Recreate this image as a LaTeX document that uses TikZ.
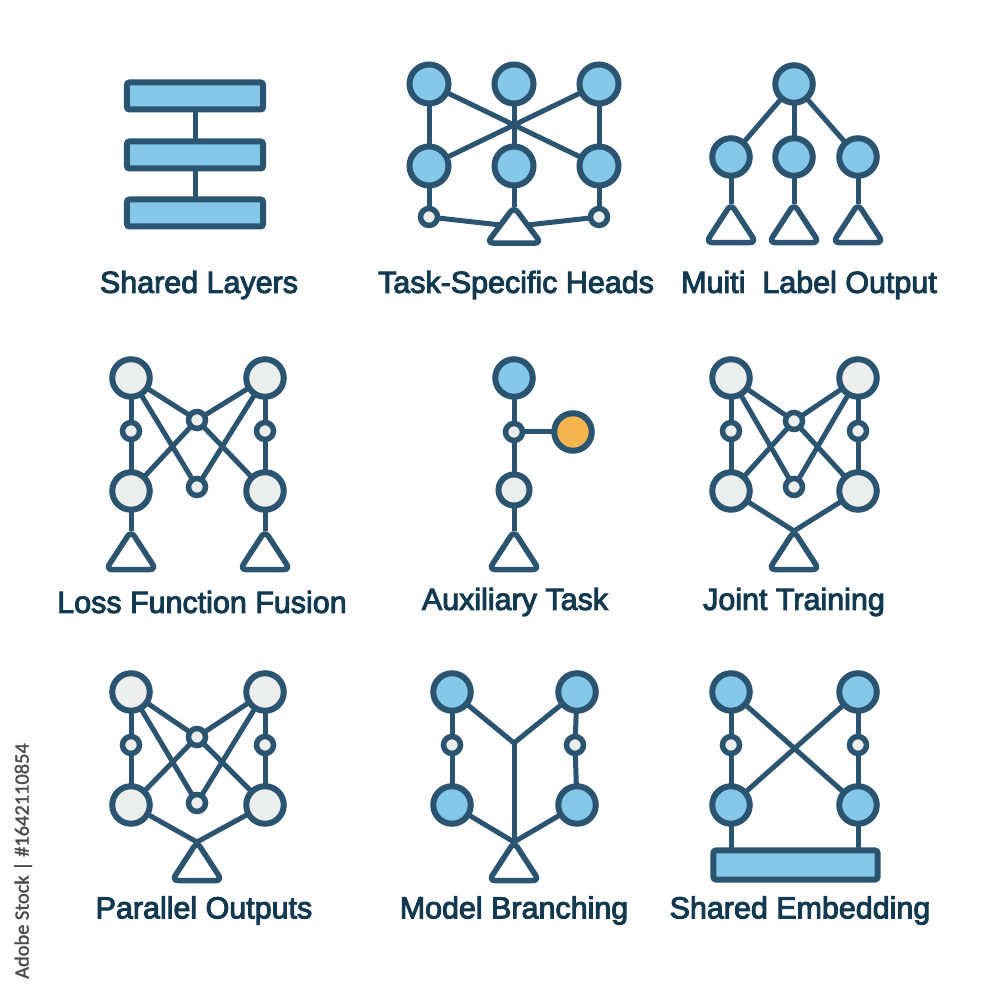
\documentclass[tikz,border=0pt]{standalone}
\usepackage{fontspec}
\font\capfont="Liberation Sans:embolden=3.2" at 8.66pt
\font\sidefont="Carlito:embolden=1.5" at 5.8pt
\usetikzlibrary{shapes.geometric}
\definecolor{inkline}{HTML}{2A5470}
\definecolor{inktext}{HTML}{12394F}
\definecolor{skyfill}{HTML}{85C7E8}
\definecolor{greyfill}{HTML}{ECEDED}
\definecolor{orangefill}{HTML}{F6B44F}
\tikzset{
	bignode/.style={circle, draw=inkline, line width=0.06cm, inner sep=0, outer sep=0, minimum size=0.375cm},
	bluenode/.style={bignode, fill=skyfill},
	greynode/.style={bignode, fill=greyfill},
	dotnode/.style={circle, draw=inkline, line width=0.055cm, fill=greyfill, inner sep=0, outer sep=0, minimum size=0.17cm},
	barnode/.style={rectangle, rounded corners=0.025cm, draw=inkline, line width=0.06cm, fill=skyfill, inner sep=0, outer sep=0, minimum width=1.36cm, minimum height=0.27cm},
	conenode/.style={isosceles triangle, isosceles triangle stretches, shape border rotate=90, anchor=apex, draw=inkline, line width=0.055cm, line join=round, rounded corners=0.06cm, fill=white, inner sep=0, outer sep=0, minimum width=0.50cm, minimum height=0.385cm},
	wire/.style={draw=inkline, line width=0.05cm},
	caption/.style={text=inktext, font=\capfont, inner sep=0}
}

\begin{document}
\begin{tikzpicture}[x=0.01cm, y=-0.01cm]
		\useasboundingbox (0, 0) rectangle (1000, 989);
		
		%%%%% SHARED LAYERS %%%%%
		\node[barnode] (sl1) at (195, 96) {};
		\node[barnode] (sl2) at (195, 155) {};
		\node[barnode] (sl3) at (195, 213) {};
		\draw[wire] (sl1) -- (sl2);
		\draw[wire] (sl2) -- (sl3);
		\node[caption] (slText) at (199, 285) {Shared Layers};
		
		%%%%% TASK HEADS %%%%%
		\node[bluenode, minimum size=0.39cm] (th1) at (429, 84) {};
		\node[bluenode, minimum size=0.39cm] (th2) at (514, 84) {};
		\node[bluenode, minimum size=0.39cm] (th3) at (599, 84) {};
		\node[bluenode, minimum size=0.39cm] (th4) at (429, 166) {};
		\node[bluenode, minimum size=0.39cm] (th5) at (514, 166) {};
		\node[bluenode, minimum size=0.39cm] (th6) at (599, 166) {};
		\node[dotnode] (th7) at (429, 217) {};
		\node[dotnode] (th8) at (599, 217) {};
		\node[conenode, minimum width=0.54cm, minimum height=0.36cm] (th9) at (514, 207) {};
		\draw[wire] (th1) -- (th4);
		\draw[wire] (th2) -- (th5);
		\draw[wire] (th3) -- (th6);
		\draw[wire] (th1) -- (th6);
		\draw[wire] (th3) -- (th4);
		\draw[wire] (th4) -- (th7);
		\draw[wire] (th6) -- (th8);
		\draw[wire] (th5) -- (th9.apex);
		\draw[wire] (th7) -- (th9.left side);
		\draw[wire] (th8) -- (th9.right side);
		\node[caption] (thText) at (516, 285) {Task-Specific Heads};
		
		%%%%% MULTI LABEL %%%%%
		\node[bluenode] (ml1) at (794, 84) {};
		\node[bluenode] (ml2) at (731, 157) {};
		\node[bluenode] (ml3) at (794, 157) {};
		\node[bluenode] (ml4) at (858, 157) {};
		\node[conenode] (ml5) at (731, 204) {};
		\node[conenode] (ml6) at (794, 204) {};
		\node[conenode] (ml7) at (858, 204) {};
		\draw[wire] (ml1) -- (ml2);
		\draw[wire] (ml1) -- (ml3);
		\draw[wire] (ml1) -- (ml4);
		\draw[wire] (ml2) -- (ml5.apex);
		\draw[wire] (ml3) -- (ml6.apex);
		\draw[wire] (ml4) -- (ml7.apex);
		\node[caption] (mlText) at (809, 285) {Muiti\ \ Label Output};
		
		%%%%% LOSS FUSION %%%%%
		\node[greynode] (lf1) at (131, 378) {};
		\node[greynode] (lf2) at (265, 378) {};
		\node[dotnode] (lf3) at (131, 431) {};
		\node[dotnode] (lf4) at (265, 431) {};
		\node[dotnode] (lf5) at (197, 420) {};
		\node[dotnode] (lf6) at (197, 487) {};
		\node[greynode] (lf7) at (131, 491) {};
		\node[greynode] (lf8) at (265, 491) {};
		\node[conenode] (lf9) at (131, 531) {};
		\node[conenode] (lf10) at (265, 531) {};
		\draw[wire] (lf1) -- (lf3);
		\draw[wire] (lf3) -- (lf7);
		\draw[wire] (lf2) -- (lf4);
		\draw[wire] (lf4) -- (lf8);
		\draw[wire] (lf1) -- (lf5);
		\draw[wire] (lf2) -- (lf5);
		\draw[wire] (lf5) -- (lf7);
		\draw[wire] (lf5) -- (lf8);
		\draw[wire] (lf1) -- (lf6);
		\draw[wire] (lf2) -- (lf6);
		\draw[wire] (lf7) -- (lf9.apex);
		\draw[wire] (lf8) -- (lf10.apex);
		\node[caption] (lfText) at (202, 602) {Loss Function Fusion};
		
		%%%%% AUXILIARY %%%%%
		\node[bluenode] (ax1) at (514, 378) {};
		\node[dotnode] (ax2) at (514, 432) {};
		\node[bignode, fill=orangefill] (ax3) at (573, 432) {};
		\node[greynode, minimum size=0.31cm] (ax4) at (514, 490) {};
		\node[conenode] (ax5) at (514, 531) {};
		\draw[wire] (ax1) -- (ax2);
		\draw[wire] (ax2) -- (ax3);
		\draw[wire] (ax2) -- (ax4);
		\draw[wire] (ax4) -- (ax5.apex);
		\node[caption] (axText) at (515, 602) {Auxiliary Task};
		
		%%%%% JOINT TRAINING %%%%%
		\node[greynode] (jt1) at (731, 378) {};
		\node[greynode] (jt2) at (858, 378) {};
		\node[dotnode] (jt3) at (731, 431) {};
		\node[dotnode] (jt4) at (858, 431) {};
		\node[dotnode] (jt5) at (794, 421) {};
		\node[dotnode] (jt6) at (794, 487) {};
		\node[greynode] (jt7) at (731, 491) {};
		\node[greynode] (jt8) at (858, 491) {};
		\node[conenode] (jt9) at (794, 531) {};
		\draw[wire] (jt1) -- (jt3);
		\draw[wire] (jt3) -- (jt7);
		\draw[wire] (jt2) -- (jt4);
		\draw[wire] (jt4) -- (jt8);
		\draw[wire] (jt1) -- (jt5);
		\draw[wire] (jt2) -- (jt5);
		\draw[wire] (jt5) -- (jt7);
		\draw[wire] (jt5) -- (jt8);
		\draw[wire] (jt1) -- (jt6);
		\draw[wire] (jt2) -- (jt6);
		\draw[wire] (jt7) -- (jt9.apex);
		\draw[wire] (jt8) -- (jt9.apex);
		\node[caption] (jtText) at (794, 602) {Joint Training};
		
		%%%%% PARALLEL %%%%%
		\node[greynode] (po1) at (131, 692) {};
		\node[greynode] (po2) at (265, 692) {};
		\node[dotnode] (po3) at (131, 745) {};
		\node[dotnode] (po4) at (265, 745) {};
		\node[dotnode] (po5) at (197, 737) {};
		\node[dotnode] (po6) at (197, 803) {};
		\node[greynode] (po7) at (131, 805) {};
		\node[greynode] (po8) at (265, 805) {};
		\node[conenode] (po9) at (197, 842) {};
		\draw[wire] (po1) -- (po3);
		\draw[wire] (po3) -- (po7);
		\draw[wire] (po2) -- (po4);
		\draw[wire] (po4) -- (po8);
		\draw[wire] (po1) -- (po5);
		\draw[wire] (po2) -- (po5);
		\draw[wire] (po5) -- (po7);
		\draw[wire] (po5) -- (po8);
		\draw[wire] (po1) -- (po6);
		\draw[wire] (po2) -- (po6);
		\draw[wire] (po7) -- (po9.apex);
		\draw[wire] (po8) -- (po9.apex);
		\node[caption] (poText) at (204, 910.5) {Parallel Outputs};
		
		%%%%% BRANCHING %%%%%
		\node[bluenode] (mb1) at (452, 692) {};
		\node[bluenode] (mb2) at (577, 692) {};
		\node[dotnode] (mb3) at (452, 745) {};
		\node[dotnode] (mb4) at (575, 745) {};
		\coordinate (mb5) at (514, 743);
		\node[bluenode] (mb6) at (452, 805) {};
		\node[bluenode] (mb7) at (577, 805) {};
		\node[conenode] (mb8) at (514, 842) {};
		\draw[wire] (mb1) -- (mb3);
		\draw[wire] (mb3) -- (mb6);
		\draw[wire] (mb2) -- (mb4);
		\draw[wire] (mb4) -- (mb7);
		\draw[wire] (mb1) -- (mb5);
		\draw[wire] (mb2) -- (mb5);
		\draw[wire] (mb5) -- (mb8.apex);
		\draw[wire] (mb6) -- (mb8.apex);
		\draw[wire] (mb7) -- (mb8.apex);
		\node[caption] (mbText) at (514, 910.5) {Model Branching};
		
		%%%%% EMBEDDING %%%%%
		\node[bluenode] (se1) at (731, 692) {};
		\node[bluenode] (se2) at (858, 692) {};
		\node[dotnode] (se3) at (731, 745) {};
		\node[dotnode] (se4) at (858, 745) {};
		\node[bluenode] (se5) at (731, 805) {};
		\node[bluenode] (se6) at (858, 805) {};
		\node[barnode, minimum width=1.64cm, minimum height=0.29cm] (se7) at (795.5, 865) {};
		\draw[wire] (se1) -- (se3);
		\draw[wire] (se3) -- (se5);
		\draw[wire] (se2) -- (se4);
		\draw[wire] (se4) -- (se6);
		\draw[wire] (se1) -- (se6);
		\draw[wire] (se2) -- (se5);
		\draw[wire] (se5) -- (se5 |- se7.north);
		\draw[wire] (se6) -- (se6 |- se7.north);
		\node[caption] (seText) at (800, 910.5) {Shared Embedding};
		
		\node[rotate=90, text=black!70, font=\sidefont, inner sep=0] (stamp) at (23, 861) {Adobe Stock | \#1642110854};
	\end{tikzpicture}
\end{document}
